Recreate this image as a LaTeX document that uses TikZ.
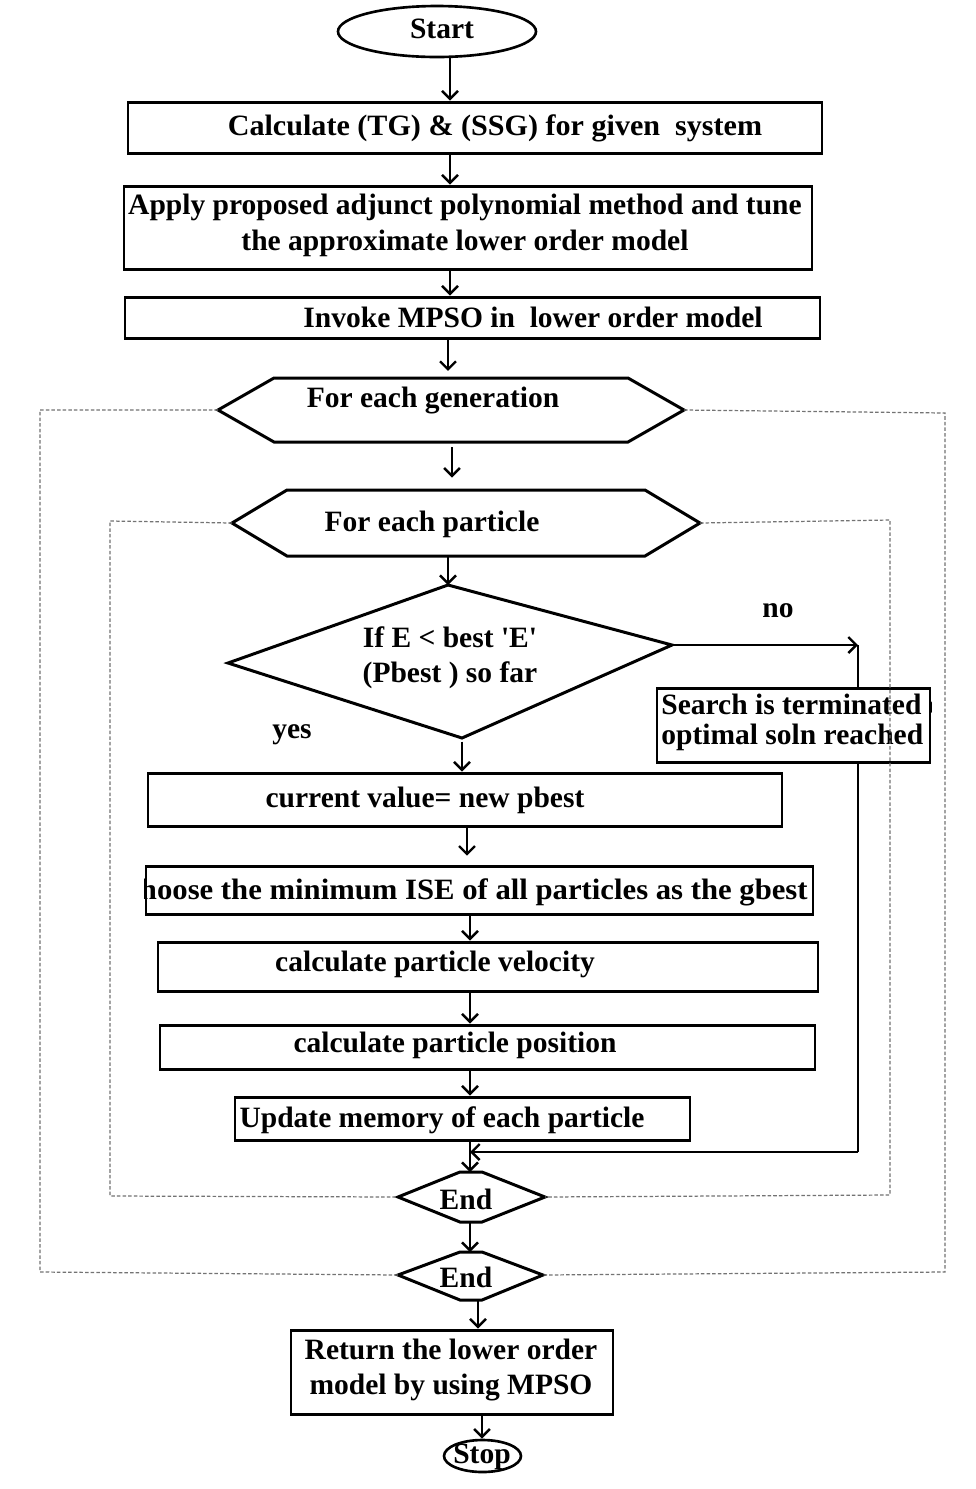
\documentclass[tikz,border=0pt]{standalone}
\usepackage{fontspec}
\setmainfont{Liberation Serif}[Ligatures=TeXOff]
\usetikzlibrary{arrows.meta,shapes.geometric}
\begin{document}
\begin{tikzpicture}[x=0.02cm,y=-0.02cm,
  box/.style args={#1x#2}{draw, line width=1.7pt, minimum width=#1*0.02cm, minimum height=#2*0.02cm, inner sep=0pt},
  oval/.style args={#1x#2}{draw, ellipse, line width=1.5pt, minimum width=#1*0.02cm, minimum height=#2*0.02cm, inner sep=0pt},
  txt/.style={font=\fontsize{16.8}{20.4}\selectfont\bfseries, inner sep=0pt, align=center},
  outline/.style={line width=1.7pt, line join=miter},
  arr/.style={line width=1.4pt, -{Straight Barb[length=4.5pt,width=9pt,line width=1.4pt]}},
  plainline/.style={line width=1.4pt},
  dashloop/.style={draw=black!55, line width=0.7pt, dash pattern=on 2pt off 1.2pt}]
\fill[white] (0,0) rectangle (975,1489);
\useasboundingbox (0,0) rectangle (975,1489);

% spine coordinates
\coordinate (s448) at (448,0);
\coordinate (s450) at (450,0);
\coordinate (s452) at (452,0);
\coordinate (s467) at (467,0);
\coordinate (s470) at (470,0);
\coordinate (s478) at (478,0);
\coordinate (s482) at (482,0);

% start
\node[oval=198x51] (start) at (437,31.5) {};
\node[txt] (startt) at (442,29) {Start};

% boxes top
\node[box=694x51] (b1) at (475,127.5) {};
\node[txt] (b1t) at (495,128) {\scalebox{1.02}[1]{Calculate (TG) \& (SSG) for given\ \ system}};
\node[box=688x83] (b2) at (468,227.5) {};
\node[txt] (b2t) at (465,225) {Apply proposed adjunct polynomial method and tune\\the approximate lower order model};
\node[box=695x41] (b3) at (472.5,317.5) {};
\node[txt] (b3t) at (533,317) {Invoke MPSO in\ \ lower order model};

% hexagon 1
\coordinate (h1w) at (218,410);
\coordinate (h1e) at (684,410);
\coordinate (h1n) at (448,378);
\coordinate (h1s) at (452,442);
\draw[outline] (h1w) -- (274,378) -- (628,378) -- (h1e) -- (628,442) -- (274,442) -- cycle;
\node[txt] (h1t) at (433,401) {For each generation};

% hexagon 2
\coordinate (h2w) at (232,523);
\coordinate (h2e) at (700,523);
\coordinate (h2n) at (452,490);
\coordinate (h2s) at (448,556);
\draw[outline] (h2w) -- (287,490) -- (645,490) -- (h2e) -- (645,556) -- (287,556) -- cycle;
\node[txt] (h2t) at (432,524) {For each particle};

% diamond
\coordinate (dn) at (448,585);
\coordinate (dw) at (228,663);
\coordinate (de) at (672,645);
\coordinate (ds) at (462,738);
\draw[outline] (dn) -- (de) -- (ds) -- (dw) -- cycle;
\node[txt, font=\fontsize{16.8}{19.8}\selectfont\bfseries] (dt) at (450,658) {If E < best 'E'\\(Pbest ) so far};

\node[txt] (no) at (778,611) {no};
\node[txt] (yes) at (292,735) {yes};

% search box
\node[box=273x74] (sb) at (793.5,725) {};
\begin{scope}
\clip (sb.north west) rectangle (sb.south east);
\node[txt, align=left, anchor=west, font=\fontsize{16.8}{17}\selectfont\bfseries] (sbt) at (661,722) {Search is terminated or\\optimal soln reached};
\end{scope}

% inner boxes
\node[box=634x53] (b4) at (465,799.5) {};
\node[txt] (b4t) at (425,800) {current value= new pbest};
\node[box=667x48] (b5) at (479.5,890) {};
\begin{scope}
\clip (b5.north west) rectangle (b5.south east);
\node[txt, anchor=east] (b5t) at (808,892) {\scalebox{1.04}[1]{choose the minimum ISE of all particles as the gbest}};
\end{scope}
\node[box=660x49] (b6) at (488,966.5) {};
\node[txt] (b6t) at (435,964) {calculate particle velocity};
\node[box=655x44] (b7) at (487.5,1047) {};
\node[txt] (b7t) at (455,1045) {calculate particle position};
\node[box=455x43] (b8) at (462.5,1118.5) {};
\node[txt] (b8t) at (442,1120) {Update memory of each particle};

% End 1
\coordinate (e1w) at (398,1197);
\coordinate (e1e) at (545,1197);
\coordinate (e1n) at (470,1172);
\coordinate (e1s) at (470,1222);
\draw[outline] (e1w) -- (460,1172) -- (482,1172) -- (e1e) -- (482,1222) -- (460,1222) -- cycle;
\node[txt] (e1t) at (466,1199) {End};

% End 2
\coordinate (e2w) at (398,1275);
\coordinate (e2e) at (543,1275);
\coordinate (e2n) at (470,1252);
\coordinate (e2s) at (470,1300);
\draw[outline] (e2w) -- (460,1252) -- (482,1252) -- (e2e) -- (482,1300) -- (460,1300) -- cycle;
\node[txt] (e2t) at (466,1277) {End};

% return box and stop
\node[box=322x84] (b9) at (452,1372) {};
\node[txt] (b9t) at (451,1370) {Return the lower order\\model by using MPSO};
\node[oval=77x32] (stop) at (482.5,1456) {};
\node[txt] (stopt) at (482,1457) {Stop};

% dashed loops
\coordinate (olt) at (40,410);
\coordinate (olb) at (40,1272);
\coordinate (ort) at (945,413);
\coordinate (orb) at (945,1272);
\draw[dashloop] (h1w) -- (olt) -- (olb) -- (e2w);
\draw[dashloop] (h1e) -- (ort) -- (orb) -- (e2e);
\coordinate (ilt) at (110,521);
\coordinate (ilb) at (110,1196);
\coordinate (irt) at (890,520);
\coordinate (irb) at (890,1195);
\draw[dashloop] (h2w) -- (ilt) -- (ilb) -- (e1w);
\draw[dashloop] (h2e) -- (irt) -- (irb) -- (e1e);

% arrows
\draw[arr] (start.south -| s450) -- (b1.north -| s450);
\draw[arr] (b1.south -| s450) -- (b2.north -| s450);
\draw[arr] (b2.south -| s450) -- (b3.north -| s450);
\draw[arr, shorten >=4pt] (b3.south -| s448) -- (h1n);
\draw[arr, shorten <=3pt, shorten >=7pt] (h1s) -- (h2n);
\draw[arr] (h2s) -- (dn);
\draw[arr, shorten <=2pt] (ds) -- (b4.north -| ds);
\draw[arr, shorten >=5pt] (b4.south -| s467) -- (b5.north -| s467);
\draw[arr] (b5.south -| s470) -- (b6.north -| s470);
\draw[arr] (b6.south -| s470) -- (b7.north -| s470);
\draw[arr] (b7.south -| s470) -- (b8.north -| s470);
\draw[arr] (b8.south -| s470) -- (e1n);
\draw[arr] (e1s) -- (e2n);
\draw[arr] (e2s -| s478) -- (b9.north -| s478);
\draw[arr] (b9.south -| s482) -- (stop.north -| s482);

% no branch
\coordinate (nc) at (858,645);
\coordinate (nb) at (858,1152);
\coordinate (mc) at (470,1152);
\draw[arr] (de) -- (nc);
\draw[plainline] (nc) -- (sb.north -| nc);
\draw[plainline] (sb.south -| nc) -- (nb);
\draw[arr] (nb) -- (mc);
\end{tikzpicture}
\end{document}
